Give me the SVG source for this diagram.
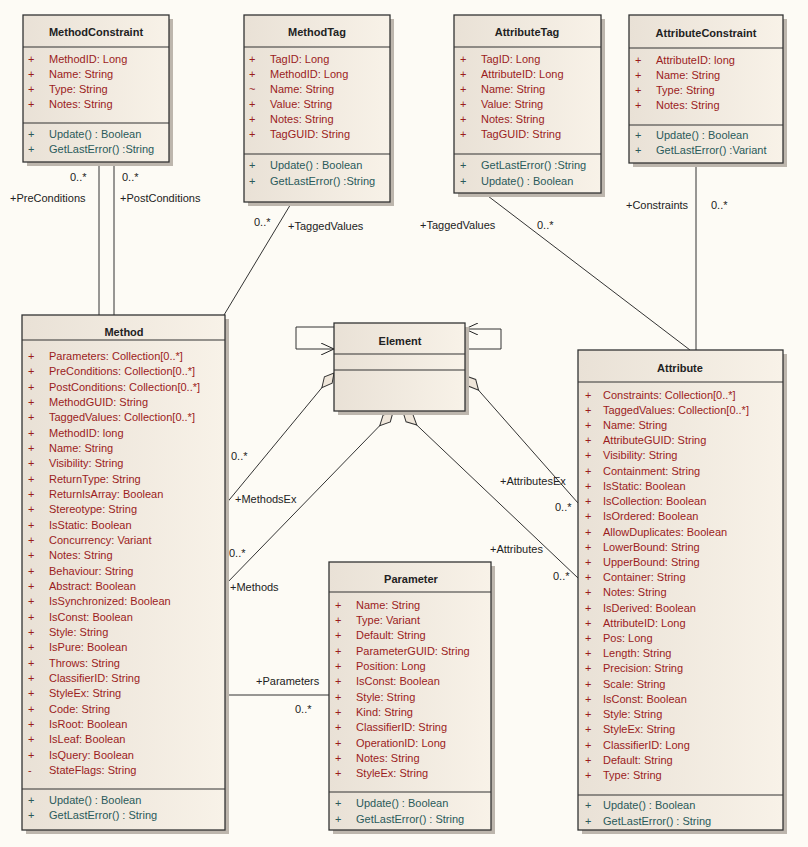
<svg xmlns="http://www.w3.org/2000/svg" width="808" height="847" viewBox="0 0 808 847">
<defs>
<linearGradient id="g" x1="0" y1="0" x2="1" y2="0"><stop offset="0" stop-color="#e9e1d6"/><stop offset="1" stop-color="#f8f2e8"/></linearGradient>
<marker id="open" markerWidth="14" markerHeight="12" refX="13" refY="6" orient="auto" markerUnits="userSpaceOnUse"><path d="M0,0 L13,6 L0,12" fill="none" stroke="#222" stroke-width="1"/></marker>
<marker id="dia" markerWidth="22" markerHeight="12" refX="1" refY="6" orient="auto" markerUnits="userSpaceOnUse"><path d="M1,6 L10,1 L20,6 L10,11 Z" fill="#efe6da" stroke="#333" stroke-width="1"/></marker>
</defs>
<style>
.box{fill:url(#g);stroke:#333;stroke-width:1.3}
.sh{fill:#bdb6ad}
.ln{stroke:#333;stroke-width:1.2}
.t{font-family:"Liberation Sans",Arial,sans-serif;font-size:11px;font-weight:bold;fill:#222;text-anchor:middle}
.a{font-family:"Liberation Sans",Arial,sans-serif;font-size:11px;fill:#9b1c1c}
.o{font-family:"Liberation Sans",Arial,sans-serif;font-size:11px;fill:#2a5a5a}
.l{font-family:"Liberation Sans",Arial,sans-serif;font-size:11px;fill:#222}
.c{fill:none;stroke:#333;stroke-width:1}
</style>
<rect width="808" height="847" fill="#fdfbf5"/>

<g id="connectors">
<line class="c" x1="99" y1="162" x2="99" y2="315"/>
<line class="c" x1="114" y1="162" x2="114" y2="315"/>
<line class="c" x1="292" y1="202" x2="224" y2="315"/>
<line class="c" x1="484" y1="193" x2="690" y2="350"/>
<line class="c" x1="696" y1="163" x2="696" y2="350"/>
<polyline class="c" points="334,327 296,327 296,349 334,349" marker-end="url(#open)"/>
<polyline class="c" points="465,349 501,349 501,329 465,329" marker-end="url(#open)"/>
<line class="c" x1="334" y1="373" x2="225" y2="505" marker-start="url(#dia)"/>
<line class="c" x1="393" y1="412" x2="225" y2="585" marker-start="url(#dia)"/>
<line class="c" x1="403" y1="412" x2="578" y2="578" marker-start="url(#dia)"/>
<line class="c" x1="466" y1="376" x2="578" y2="503" marker-start="url(#dia)"/>
<line class="c" x1="225" y1="695" x2="329" y2="695"/>
<text class="l" x="70" y="181">0..*</text>
<text class="l" x="10" y="202">+PreConditions</text>
<text class="l" x="122" y="181">0..*</text>
<text class="l" x="120" y="202">+PostConditions</text>
<text class="l" x="254" y="226">0..*</text>
<text class="l" x="288" y="230">+TaggedValues</text>
<text class="l" x="420" y="229">+TaggedValues</text>
<text class="l" x="537" y="229">0..*</text>
<text class="l" x="626" y="209">+Constraints</text>
<text class="l" x="711" y="209">0..*</text>
<text class="l" x="231" y="460">0..*</text>
<text class="l" x="235" y="503">+MethodsEx</text>
<text class="l" x="229" y="557">0..*</text>
<text class="l" x="230" y="591">+Methods</text>
<text class="l" x="500" y="485">+AttributesEx</text>
<text class="l" x="555" y="511">0..*</text>
<text class="l" x="490" y="553">+Attributes</text>
<text class="l" x="553" y="580">0..*</text>
<text class="l" x="256" y="685">+Parameters</text>
<text class="l" x="295" y="713">0..*</text>
</g>

<g id="MethodConstraint">
<rect class="sh" x="27" y="19" width="146" height="147"/>
<rect class="box" x="23" y="15" width="146" height="147"/>
<line class="ln" x1="23" y1="47" x2="169" y2="47"/><line class="ln" x1="23" y1="123" x2="169" y2="123"/>
<text class="t" x="96" y="36">MethodConstraint</text>
<text class="a" x="28" y="63">+</text><text class="a" x="49" y="63">MethodID:  Long</text>
<text class="a" x="28" y="78">+</text><text class="a" x="49" y="78">Name:  String</text>
<text class="a" x="28" y="93">+</text><text class="a" x="49" y="93">Type:  String</text>
<text class="a" x="28" y="108">+</text><text class="a" x="49" y="108">Notes:  String</text>
<text class="o" x="28" y="138">+</text><text class="o" x="49" y="138">Update() : Boolean</text>
<text class="o" x="28" y="153">+</text><text class="o" x="49" y="153">GetLastError() :String</text>
</g>

<g id="MethodTag">
<rect class="sh" x="248" y="19" width="146" height="187"/>
<rect class="box" x="244" y="15" width="146" height="187"/>
<line class="ln" x1="244" y1="47" x2="390" y2="47"/><line class="ln" x1="244" y1="154" x2="390" y2="154"/>
<text class="t" x="317" y="36">MethodTag</text>
<text class="a" x="249" y="63">+</text><text class="a" x="270" y="63">TagID:  Long</text>
<text class="a" x="249" y="78">+</text><text class="a" x="270" y="78">MethodID:  Long</text>
<text class="a" x="249" y="93">~</text><text class="a" x="270" y="93">Name:  String</text>
<text class="a" x="249" y="108">+</text><text class="a" x="270" y="108">Value:  String</text>
<text class="a" x="249" y="123">+</text><text class="a" x="270" y="123">Notes:  String</text>
<text class="a" x="249" y="138">+</text><text class="a" x="270" y="138">TagGUID:  String</text>
<text class="o" x="249" y="169">+</text><text class="o" x="270" y="169">Update() : Boolean</text>
<text class="o" x="249" y="185">+</text><text class="o" x="270" y="185">GetLastError() :String</text>
</g>

<g id="AttributeTag">
<rect class="sh" x="458" y="19" width="147" height="178"/>
<rect class="box" x="454" y="15" width="147" height="178"/>
<line class="ln" x1="454" y1="47" x2="601" y2="47"/><line class="ln" x1="454" y1="154" x2="601" y2="154"/>
<text class="t" x="527" y="36">AttributeTag</text>
<text class="a" x="460" y="63">+</text><text class="a" x="481" y="63">TagID:  Long</text>
<text class="a" x="460" y="78">+</text><text class="a" x="481" y="78">AttributeID:  Long</text>
<text class="a" x="460" y="93">+</text><text class="a" x="481" y="93">Name:  String</text>
<text class="a" x="460" y="108">+</text><text class="a" x="481" y="108">Value:  String</text>
<text class="a" x="460" y="123">+</text><text class="a" x="481" y="123">Notes:  String</text>
<text class="a" x="460" y="138">+</text><text class="a" x="481" y="138">TagGUID:  String</text>
<text class="o" x="460" y="169">+</text><text class="o" x="481" y="169">GetLastError() :String</text>
<text class="o" x="460" y="185">+</text><text class="o" x="481" y="185">Update() : Boolean</text>
</g>

<g id="AttributeConstraint">
<rect class="sh" x="633" y="19" width="154" height="148"/>
<rect class="box" x="629" y="15" width="154" height="148"/>
<line class="ln" x1="629" y1="48" x2="783" y2="48"/><line class="ln" x1="629" y1="125" x2="783" y2="125"/>
<text class="t" x="706" y="37">AttributeConstraint</text>
<text class="a" x="635" y="64">+</text><text class="a" x="656" y="64">AttributeID:  long</text>
<text class="a" x="635" y="79">+</text><text class="a" x="656" y="79">Name:  String</text>
<text class="a" x="635" y="94">+</text><text class="a" x="656" y="94">Type:  String</text>
<text class="a" x="635" y="109">+</text><text class="a" x="656" y="109">Notes:  String</text>
<text class="o" x="635" y="139">+</text><text class="o" x="656" y="139">Update() : Boolean</text>
<text class="o" x="635" y="154">+</text><text class="o" x="656" y="154">GetLastError() :Variant</text>
</g>

<g id="Element">
<rect class="sh" x="338" y="327" width="131" height="88"/>
<rect class="box" x="334" y="323" width="131" height="88"/>
<line class="ln" x1="334" y1="354" x2="465" y2="354"/><line class="ln" x1="334" y1="370" x2="465" y2="370"/>
<text class="t" x="400" y="345">Element</text>
</g>

<g id="Method">
<rect class="sh" x="26" y="319" width="203" height="515"/>
<rect class="box" x="22" y="315" width="203" height="515"/>
<line class="ln" x1="22" y1="340" x2="225" y2="340"/><line class="ln" x1="22" y1="789" x2="225" y2="789"/>
<text class="t" x="124" y="336">Method</text>
<g class="a">
<text x="28" y="360">+</text><text x="49" y="360">Parameters:  Collection[0..*]</text>
<text x="28" y="375">+</text><text x="49" y="375">PreConditions:  Collection[0..*]</text>
<text x="28" y="391">+</text><text x="49" y="391">PostConditions:  Collection[0..*]</text>
<text x="28" y="406">+</text><text x="49" y="406">MethodGUID:  String</text>
<text x="28" y="421">+</text><text x="49" y="421">TaggedValues:  Collection[0..*]</text>
<text x="28" y="437">+</text><text x="49" y="437">MethodID:  long</text>
<text x="28" y="452">+</text><text x="49" y="452">Name:  String</text>
<text x="28" y="467">+</text><text x="49" y="467">Visibility:  String</text>
<text x="28" y="483">+</text><text x="49" y="483">ReturnType:  String</text>
<text x="28" y="498">+</text><text x="49" y="498">ReturnIsArray:  Boolean</text>
<text x="28" y="513">+</text><text x="49" y="513">Stereotype:  String</text>
<text x="28" y="529">+</text><text x="49" y="529">IsStatic:  Boolean</text>
<text x="28" y="544">+</text><text x="49" y="544">Concurrency:  Variant</text>
<text x="28" y="559">+</text><text x="49" y="559">Notes:  String</text>
<text x="28" y="575">+</text><text x="49" y="575">Behaviour:  String</text>
<text x="28" y="590">+</text><text x="49" y="590">Abstract:  Boolean</text>
<text x="28" y="605">+</text><text x="49" y="605">IsSynchronized:  Boolean</text>
<text x="28" y="621">+</text><text x="49" y="621">IsConst:  Boolean</text>
<text x="28" y="636">+</text><text x="49" y="636">Style:  String</text>
<text x="28" y="651">+</text><text x="49" y="651">IsPure:  Boolean</text>
<text x="28" y="667">+</text><text x="49" y="667">Throws:  String</text>
<text x="28" y="682">+</text><text x="49" y="682">ClassifierID:  String</text>
<text x="28" y="697">+</text><text x="49" y="697">StyleEx:  String</text>
<text x="28" y="713">+</text><text x="49" y="713">Code:  String</text>
<text x="28" y="728">+</text><text x="49" y="728">IsRoot:  Boolean</text>
<text x="28" y="743">+</text><text x="49" y="743">IsLeaf:  Boolean</text>
<text x="28" y="759">+</text><text x="49" y="759">IsQuery:  Boolean</text>
<text x="28" y="774">-</text><text x="49" y="774">StateFlags:  String</text>
</g>
<text class="o" x="28" y="804">+</text><text class="o" x="49" y="804">Update() : Boolean</text>
<text class="o" x="28" y="819">+</text><text class="o" x="49" y="819">GetLastError() : String</text>
</g>

<g id="Parameter">
<rect class="sh" x="333" y="566" width="162" height="268"/>
<rect class="box" x="329" y="562" width="162" height="268"/>
<line class="ln" x1="329" y1="592" x2="491" y2="592"/><line class="ln" x1="329" y1="792" x2="491" y2="792"/>
<text class="t" x="411" y="583">Parameter</text>
<g class="a">
<text x="335" y="609">+</text><text x="356" y="609">Name:  String</text>
<text x="335" y="624">+</text><text x="356" y="624">Type:  Variant</text>
<text x="335" y="639">+</text><text x="356" y="639">Default:  String</text>
<text x="335" y="655">+</text><text x="356" y="655">ParameterGUID:  String</text>
<text x="335" y="670">+</text><text x="356" y="670">Position:  Long</text>
<text x="335" y="685">+</text><text x="356" y="685">IsConst:  Boolean</text>
<text x="335" y="701">+</text><text x="356" y="701">Style:  String</text>
<text x="335" y="716">+</text><text x="356" y="716">Kind:  String</text>
<text x="335" y="731">+</text><text x="356" y="731">ClassifierID:  String</text>
<text x="335" y="747">+</text><text x="356" y="747">OperationID:  Long</text>
<text x="335" y="762">+</text><text x="356" y="762">Notes:  String</text>
<text x="335" y="777">+</text><text x="356" y="777">StyleEx:  String</text>
</g>
<text class="o" x="335" y="807">+</text><text class="o" x="356" y="807">Update() : Boolean</text>
<text class="o" x="335" y="823">+</text><text class="o" x="356" y="823">GetLastError() : String</text>
</g>

<g id="Attribute">
<rect class="sh" x="582" y="354" width="205" height="480"/>
<rect class="box" x="578" y="350" width="205" height="480"/>
<line class="ln" x1="578" y1="382" x2="783" y2="382"/><line class="ln" x1="578" y1="795" x2="783" y2="795"/>
<text class="t" x="680" y="372">Attribute</text>
<g class="a">
<text x="585" y="399">+</text><text x="603" y="399">Constraints:  Collection[0..*]</text>
<text x="585" y="414">+</text><text x="603" y="414">TaggedValues:  Collection[0..*]</text>
<text x="585" y="429">+</text><text x="603" y="429">Name:  String</text>
<text x="585" y="444">+</text><text x="603" y="444">AttributeGUID:  String</text>
<text x="585" y="459">+</text><text x="603" y="459">Visibility:  String</text>
<text x="585" y="475">+</text><text x="603" y="475">Containment:  String</text>
<text x="585" y="490">+</text><text x="603" y="490">IsStatic:  Boolean</text>
<text x="585" y="505">+</text><text x="603" y="505">IsCollection:  Boolean</text>
<text x="585" y="520">+</text><text x="603" y="520">IsOrdered:  Boolean</text>
<text x="585" y="536">+</text><text x="603" y="536">AllowDuplicates:  Boolean</text>
<text x="585" y="551">+</text><text x="603" y="551">LowerBound:  String</text>
<text x="585" y="566">+</text><text x="603" y="566">UpperBound:  String</text>
<text x="585" y="581">+</text><text x="603" y="581">Container:  String</text>
<text x="585" y="596">+</text><text x="603" y="596">Notes:  String</text>
<text x="585" y="612">+</text><text x="603" y="612">IsDerived:  Boolean</text>
<text x="585" y="627">+</text><text x="603" y="627">AttributeID:  Long</text>
<text x="585" y="642">+</text><text x="603" y="642">Pos:  Long</text>
<text x="585" y="657">+</text><text x="603" y="657">Length:  String</text>
<text x="585" y="672">+</text><text x="603" y="672">Precision:  String</text>
<text x="585" y="688">+</text><text x="603" y="688">Scale:  String</text>
<text x="585" y="703">+</text><text x="603" y="703">IsConst:  Boolean</text>
<text x="585" y="718">+</text><text x="603" y="718">Style:  String</text>
<text x="585" y="733">+</text><text x="603" y="733">StyleEx:  String</text>
<text x="585" y="749">+</text><text x="603" y="749">ClassifierID:  Long</text>
<text x="585" y="764">+</text><text x="603" y="764">Default:  String</text>
<text x="585" y="779">+</text><text x="603" y="779">Type:  String</text>
</g>
<text class="o" x="585" y="809">+</text><text class="o" x="603" y="809">Update() : Boolean</text>
<text class="o" x="585" y="825">+</text><text class="o" x="603" y="825">GetLastError() : String</text>
</g>
</svg>
